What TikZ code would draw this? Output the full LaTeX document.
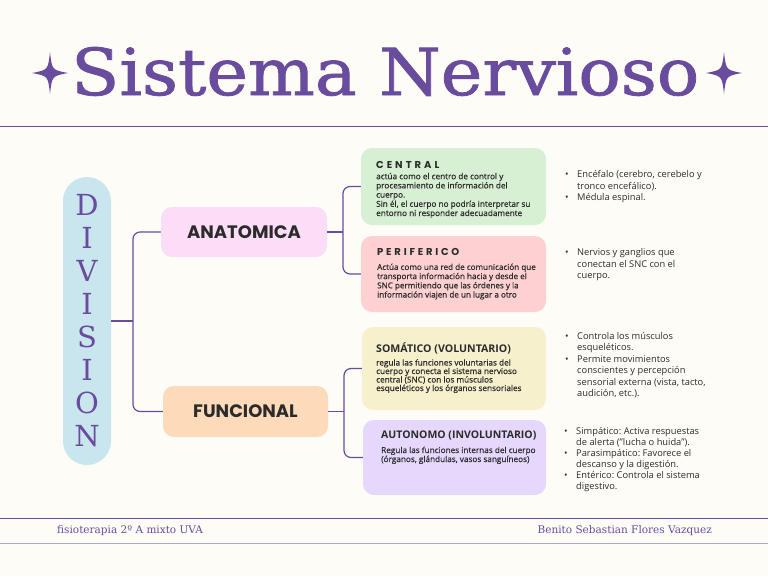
\documentclass[tikz,border=0pt]{standalone}
\usepackage{fontspec}
\usepackage{graphicx}
\setmainfont{Open Sans}
\newfontfamily\bodyf[FakeBold=0.5]{Open Sans}
\newfontfamily\slab{DejaVu Serif}
\newfontfamily\slabb[FakeBold=1.2]{DejaVu Serif}
\newfontfamily\headf{Poppins}
\definecolor{bgc}{HTML}{FDFCF7}
\definecolor{purp}{HTML}{6A4C9E}
\definecolor{lpurp}{HTML}{B3A2D6}
\definecolor{pillc}{HTML}{C9E5EE}
\definecolor{anac}{HTML}{FCDDF7}
\definecolor{func}{HTML}{FDDBBA}
\definecolor{cenc}{HTML}{D7EFD3}
\definecolor{perc}{HTML}{FDD0D1}
\definecolor{somc}{HTML}{F6F0CD}
\definecolor{autc}{HTML}{E6D7FC}
\definecolor{ink}{HTML}{2B2B2B}
\newcommand{\bul}{\makebox[12pt][l]{\textbullet}}
\newcommand{\cont}{\hspace*{12pt}}
\begin{document}
\begin{tikzpicture}[x=1pt,y=-1pt,
  conn/.style={draw=purp, line width=1.2pt, rounded corners=7pt},
  catbox/.style={fill=#1, rounded corners=11pt, inner sep=0pt, text=ink,
     font=\headf\bfseries\fontsize{18}{20}\selectfont},
  subbox/.style={fill=#1, rounded corners=11pt, inner sep=0pt},
  ttl/.style={anchor=base west, inner sep=0pt, text=ink},
  body/.style={anchor=base west, inner sep=0pt, text=ink, align=left},
  blist/.style={anchor=base west, inner sep=0pt, text=ink, align=left,
     font=\fontsize{9.3}{11.5}\selectfont\frenchspacing},
  spark/.pic={\fill[purp] (0,-21) .. controls (2,-3) .. (18,0) .. controls (2,3) .. (0,21)
     .. controls (-2,3) .. (-18,0) .. controls (-2,-3) .. (0,-21) -- cycle;}
]
\fill[bgc] (0,0) rectangle (768,576);
\useasboundingbox (0,0) rectangle (768,576);

% title
\node[anchor=base west, inner sep=0pt, text=purp] (title) at (71,95)
  {\resizebox{628pt}{48pt}{\slabb Sistema Nervioso}};
\pic at (50,73) {spark};
\pic at (724,73) {spark};
\draw[purp, line width=1pt] (0,126) -- (768,126);

% footer
\draw[purp, line width=1pt] (0,518) -- (768,518);
\draw[lpurp, line width=1pt] (0,543) -- (768,543);
\node[anchor=base west, inner sep=0pt, text=purp, font=\slab\fontsize{10.5}{12}\selectfont] (f1) at (57,533) {fisioterapia 2º A mixto UVA};
\node[anchor=base east, inner sep=0pt, text=purp, font=\slab\fontsize{10.5}{12}\selectfont] (f2) at (712,533) {Benito Sebastian Flores Vazquez};

% division pill
\node[fill=pillc, rounded corners=24pt, minimum width=48pt, minimum height=288pt, inner sep=0pt,
  text=purp, align=center, font=\slab\fontsize{29}{33}\selectfont] (div) at (87,321)
  {D\\I\\V\\I\\S\\I\\O\\N};

% category boxes
\node[catbox=anac, minimum width=166pt, minimum height=50pt] (ana) at (244,232) {ANATOMICA};
\node[catbox=func, minimum width=165pt, minimum height=51pt] (fun) at (245.5,411.5) {FUNCIONAL};

% sub boxes
\node[subbox=cenc, minimum width=185pt, minimum height=77pt] (cen) at (453.5,186.5) {};
\node[subbox=perc, minimum width=185pt, minimum height=76pt] (per) at (453.5,274) {};
\node[subbox=somc, minimum width=184pt, minimum height=83pt] (som) at (454,368.5) {};
\node[subbox=autc, minimum width=183pt, minimum height=75pt] (aut) at (454.5,457.5) {};

% connectors
\coordinate (j0) at (133,319);
\coordinate (j1) at (343,232);
\coordinate (j2) at (344,411.5);
\draw[conn] (div.east) -- (j0 |- div.east);
\draw[conn] (ana.west) -| (j0) |- (fun.west);
\draw[conn] (ana.east) -- (j1);
\draw[conn] (cen.west) -| (j1) |- (per.west);
\draw[conn] (fun.east) -- (j2);
\draw[conn] (som.west) -| (j2) |- (aut.west);

% sub box texts
\node[ttl, font=\headf\bfseries\fontsize{10}{11}\selectfont\addfontfeature{LetterSpace=30}] (cent) at (376,168.5) {CENTRAL};
\node[body, font=\bodyf\fontsize{8.2}{9.2}\selectfont] (cenb) at (376,216)
 {actúa como el centro de control y\\procesamiento de información del\\cuerpo.\\Sin él, el cuerpo no podría interpretar su\\entorno ni responder adecuadamente};
\node[ttl, font=\headf\bfseries\fontsize{10}{11}\selectfont\addfontfeature{LetterSpace=28}] (pert) at (377,255) {PERIFERICO};
\node[body, font=\bodyf\fontsize{8.1}{9.2}\selectfont] (perb) at (377,297.5)
 {Actúa como una red de comunicación que\\transporta información hacia y desde el\\SNC permitiendo que las órdenes y la\\información viajen de un lugar a otro};
\node[ttl, font=\bfseries\fontsize{10.6}{11}\selectfont] (somt) at (376,352) {SOMÁTICO (VOLUNTARIO)};
\node[body, font=\bodyf\fontsize{8.2}{8.5}\selectfont] (somb) at (376,391)
 {regula las funciones voluntarias del\\cuerpo y conecta el sistema nervioso\\central (SNC) con los músculos\\esqueléticos y los órganos sensoriales};
\node[ttl, font=\bfseries\fontsize{10.5}{11}\selectfont] (autt) at (381,438) {AUTONOMO (INVOLUNTARIO)};
\node[body, font=\bodyf\fontsize{8.2}{9}\selectfont] (autb) at (381,462)
 {Regula las funciones internas del cuerpo\\(órganos, glándulas, vasos sanguíneos)};

% bullet lists
\node[blist] (l1) at (565,200.5)
 {\bul Encéfalo (cerebro, cerebelo y\\\cont tronco encefálico).\\\bul Médula espinal.};
\node[blist] (l2) at (565,278.5)
 {\bul Nervios y ganglios que\\\cont conectan el SNC con el\\\cont cuerpo.};
\node[blist] (l3) at (565,396.5)
 {\bul Controla los músculos\\\cont esqueléticos.\\\bul Permite movimientos\\\cont conscientes y percepción\\\cont sensorial externa (vista, tacto,\\\cont audición, etc.).};
\node[blist, font=\fontsize{9.3}{11}\selectfont\frenchspacing] (l4) at (564,489.5)
 {\bul Simpático: Activa respuestas\\\cont de alerta ("lucha o huida").\\\bul Parasimpático: Favorece el\\\cont descanso y la digestión.\\\bul Entérico: Controla el sistema\\\cont digestivo.};
\end{tikzpicture}
\end{document}
